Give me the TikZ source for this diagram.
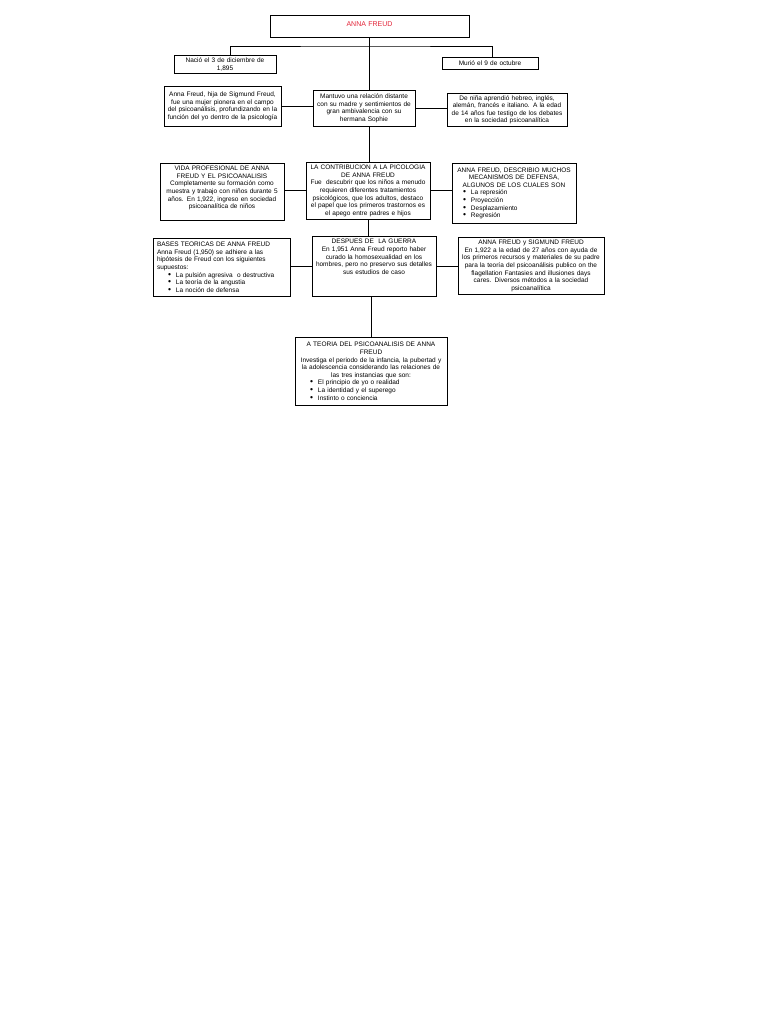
\documentclass[tikz,border=0pt]{standalone}
\usepackage{fontspec}
\setmainfont{Liberation Sans}
\definecolor{titlered}{RGB}{226,35,55}
\newcommand{\bul}{{\fontsize{8.5}{7.6}\selectfont\textbullet}\hspace{5pt}}
\tikzset{
    concept/.style={rectangle, draw, line width=0.7pt, anchor=north, align=center, inner xsep=2pt, inner ysep=1.5pt, font=\fontsize{6.5}{7.6}\selectfont},
    link/.style={draw, line width=0.9pt}
}

\begin{document}
\begin{tikzpicture}[x=1pt, y=-1pt]
    \useasboundingbox (0,0) rectangle (768,1024);

    \node[concept, text width=195, minimum height=22, text depth=5, font=\fontsize{7}{8}\selectfont, text=titlered] (title) at (369.5,15) {ANNA FREUD};
    \node[concept, text width=98, minimum height=18] (born) at (225,55) {Nació el 3 de diciembre de\\1,895};
    \node[concept, text width=92, minimum height=12] (died) at (490,57) {Murió el 9 de octubre};

    \node[concept, text width=113, minimum height=40] (hija) at (222.5,86) {Anna Freud, hija de Sigmund Freud,\\fue una mujer pionera en el campo\\del psicoanálisis, profundizando en la\\función del yo dentro de la psicología};
    \node[concept, text width=98, minimum height=36] (rel) at (364,90) {Mantuvo una relación distante\\con su madre y sentimientos de\\gran ambivalencia con su\\hermana Sophie};
    \node[concept, text width=116, minimum height=33] (nina) at (507,93) {De niña aprendió hebreo, inglés,\\alemán, francés e italiano. A la edad\\de 14 años fue testigo de los debates\\en la sociedad psicoanalítica};

    \node[concept, text width=120, minimum height=57, text depth=47] (vida) at (222,163) {VIDA PROFESIONAL DE ANNA\\FREUD Y EL PSICOANALISIS\\Completamente su formación como\\muestra y trabajo con niños durante 5\\años. En 1,922, ingreso en sociedad\\psicoanalítica de niños};
    \node[concept, text width=120, minimum height=57] (contrib) at (368,162) {LA CONTRIBUCION A LA PICOLOGIA\\DE ANNA FREUD\\Fue\ \ descubrir que los niños a menudo\\requieren diferentes tratamientos\\psicológicos, que los adultos, destaco\\el papel que los primeros trastornos es\\el apego entre padres e hijos};
    \node[concept, text width=120, minimum height=60] (mecan) at (514,163) {ANNA FREUD, DESCRIBIO MUCHOS\\MECANISMOS DE DEFENSA,\\ALGUNOS DE LOS CUALES SON\par\raggedright\leftskip=9pt
        \bul La represión\\\bul Proyección\\\bul Desplazamiento\\\bul Regresión\par};

    \node[concept, text width=129, inner xsep=4pt, minimum height=58, align=left] (bases) at (221.5,238) {BASES TEORICAS DE ANNA FREUD\\Anna Freud (1,950) se adhiere a las\\hipótesis de Freud con los siguientes\\supuestos:\par\leftskip=11pt
        \bul La pulsión agresiva\ \ o destructiva\\\bul La teoría de la angustia\\\bul La noción de defensa\par};
    \node[concept, text width=120, minimum height=58, text depth=49, inner ysep=3pt] (despues) at (374,236) {DESPUES DE\ \ LA GUERRA\\En 1,951 Anna Freud reporto haber\\curado la homosexualidad en los\\hombres, pero no preservo sus detalles\\sus estudios de caso};
    \node[concept, text width=142, minimum height=57] (sigmund) at (531,237) {ANNA FREUD y SIGMUND FREUD\\En 1,922 a la edad de 27 años con ayuda de\\los primeros recursos y materiales de su padre\\para la teoría del psicoanálisis publico on the\\flagellation Fantasies and illusiones days\\cares. Diversos métodos a la sociedad\\psicoanalítica};

    \node[concept, text width=148, minimum height=68] (teoria) at (371,337) {A TEORIA DEL PSICOANALISIS DE ANNA\\FREUD\\Investiga el periodo de la infancia, la pubertad y\\la adolescencia considerando las relaciones de\\las tres instancias que son:\par\raggedright\leftskip=13pt
        \bul El principio de yo o realidad\\\bul La identidad y el superego\\\bul Instinto o conciencia\par};

    % trunk and branches
    \coordinate (fork) at (369.5,46);
    \draw[link] ([xshift=5pt]born.north) |- (fork) -| ([xshift=2pt]died.north);
    \draw[link] (title.south) -- (title.south |- rel.north);
    \draw[link] (title.south |- rel.south) -- (title.south |- contrib.north);
    \draw[link] (contrib.south) -- (contrib.south |- despues.north);
    \draw[link] (teoria.north) -- (teoria.north |- despues.south);

    % side links
    \draw[link] (hija.east) -- (hija.east -| rel.west);
    \draw[link] (rel.east) -- (rel.east -| nina.west);
    \draw[link] (contrib.west) -- (contrib.west -| vida.east);
    \draw[link] (contrib.east) -- (contrib.east -| mecan.west);
    \draw[link] (despues.west) -- (despues.west -| bases.east);
    \draw[link] (despues.east) -- (despues.east -| sigmund.west);
\end{tikzpicture}
\end{document}
